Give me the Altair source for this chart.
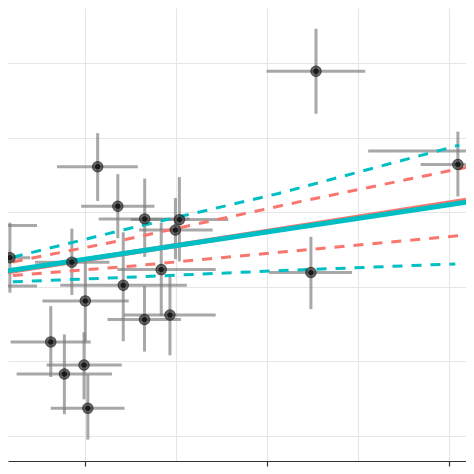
import altair as alt
import pandas as pd

# observations with their error ranges
pt_x = [0.068, 0.179, 0.327, 0.518, 0.496, -0.415, -0.074, 0.209, 0.418, 0.000,
        0.326, 0.466, -0.190, -0.007, -0.115, 0.014, 1.270, 1.242, 2.051, 2.234,
        -0.638, -0.640]
pt_y = [4.61, 4.08, 3.91, 3.90, 3.76, 3.39, 3.33, 3.02, 3.23, 2.81,
        2.56, 2.62, 2.26, 1.95, 1.83, 1.37, 5.89, 3.19, 4.64, 4.82,
        3.82, 3.01]
pt_xlo = [-0.156, -0.023, 0.074, 0.250, 0.296, -0.612, -0.277, -0.138, 0.176, -0.236,
          0.122, 0.213, -0.411, -0.213, -0.378, -0.190, 0.998, 1.011, 1.846, 1.557,
          -0.904, -0.900]
pt_xhi = [0.289, 0.381, 0.574, 0.787, 0.701, -0.303, 0.133, 0.559, 0.718, 0.239,
          0.527, 0.718, 0.030, 0.201, 0.147, 0.216, 1.541, 1.468, 2.261, 2.900,
          -0.266, -0.266]
pt_ylo = [4.15, 3.65, 3.40, 3.34, 3.37, 2.92, 2.89, 2.27, 2.61, 2.27,
          2.13, 2.08, 1.79, 1.49, 1.29, 0.95, 5.32, 2.70, 4.21, 4.30,
          3.40, 2.60]
pt_yhi = [5.06, 4.51, 4.45, 4.47, 4.19, 3.86, 3.78, 3.73, 3.86, 3.34,
          3.01, 3.15, 2.74, 2.39, 2.36, 1.82, 6.46, 3.67, 5.08, 5.30,
          4.20, 3.40]

# fitted lines
fit_x = [-0.426, 2.096]
teal_fit_y = [3.215, 4.135]
orange_fit_y = [3.202, 4.161]

# confidence bands
teal_upper_x = [-0.399, 0.213, 1.064, 2.059]
teal_upper_y = [3.396, 3.765, 4.251, 4.899]
teal_lower_x = [-0.399, 0.213, 1.064, 2.037]
teal_lower_y = [3.066, 3.124, 3.215, 3.306]
orange_upper_x = [-0.399, 0.213, 1.170, 2.096]
orange_upper_y = [3.332, 3.629, 4.135, 4.601]
orange_lower_x = [-0.399, 0.213, 1.064, 2.096]
orange_lower_y = [3.150, 3.267, 3.461, 3.694]

TEAL = '#00BFC4'
ORANGE = '#F8766D'

points = pd.DataFrame({
    'x': pt_x, 'y': pt_y,
    'xlo': pt_xlo, 'xhi': pt_xhi,
    'ylo': pt_ylo, 'yhi': pt_yhi,
})

x_scale = alt.Scale(domain=[-0.4255, 2.0957], nice=False, zero=False)
y_scale = alt.Scale(domain=[0.663, 6.738], nice=False, zero=False)

x_axis = alt.Axis(
    values=[-0.5, 0, 0.5, 1, 1.5, 2],
    labels=False, title=None,
    grid=True, gridColor='#e6e6e6', gridWidth=1.2,
    domainColor='#333333', domainWidth=1.2,
    tickColor='#333333', tickWidth=1.2, tickSize=5,
    tickOpacity={'condition': {'test': 'abs(datum.value % 1) < 0.01', 'value': 1},
                 'value': 0},
)
y_axis = alt.Axis(
    values=[1, 2, 3, 4, 5, 6],
    labels=False, title=None, ticks=False, domain=False,
    grid=True, gridColor='#e6e6e6', gridWidth=1.2,
    minExtent=0, maxExtent=0,
)


def X(field):
    return alt.X(field, type='quantitative', scale=x_scale, axis=x_axis)


def Y(field):
    return alt.Y(field, type='quantitative', scale=y_scale, axis=y_axis)


def line_layer(xs, ys, color, width, dash=None):
    df = pd.DataFrame({'x': xs, 'y': ys})
    opts = dict(color=color, strokeWidth=width, clip=True)
    if dash:
        opts['strokeDash'] = dash
    return alt.Chart(df).mark_line(**opts).encode(x=X('x'), y=Y('y'))


hbars = alt.Chart(points).mark_rule(
    color='#7a7a7a', opacity=0.65, strokeWidth=3, clip=True
).encode(x=X('xlo'), x2='xhi', y=Y('y'))

vbars = alt.Chart(points).mark_rule(
    color='#7a7a7a', opacity=0.65, strokeWidth=3, clip=True
).encode(x=X('x'), y=Y('ylo'), y2='yhi')

dash = [10, 9]
bands = [
    line_layer(orange_upper_x, orange_upper_y, ORANGE, 3, dash),
    line_layer(orange_lower_x, orange_lower_y, ORANGE, 3, dash),
    line_layer(teal_upper_x, teal_upper_y, TEAL, 3, dash),
    line_layer(teal_lower_x, teal_lower_y, TEAL, 3, dash),
]
fits = [
    line_layer(fit_x, orange_fit_y, ORANGE, 5),
    line_layer(fit_x, teal_fit_y, TEAL, 5),
]

dots_outer = alt.Chart(points).mark_circle(
    size=105, color='#3a3a3a', opacity=0.75, stroke='#1a1a1a', strokeWidth=1.2, clip=True
).encode(x=X('x'), y=Y('y'))

dots_inner = alt.Chart(points).mark_circle(
    size=28, color='#111111', opacity=0.85, clip=True
).encode(x=X('x'), y=Y('y'))

chart = alt.layer(
    hbars, vbars, *bands, *fits, dots_outer, dots_inner
).properties(
    width=458, height=453, padding=0, background='white'
).configure_view(stroke=None)

chart.save("out.html", embed_options={"renderer": "svg", "actions": False})
